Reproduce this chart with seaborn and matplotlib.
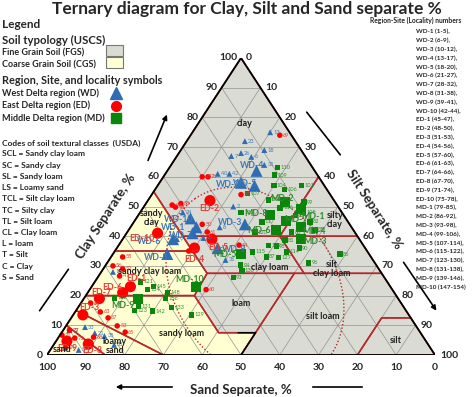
import numpy as np
import pandas as pd
import matplotlib.pyplot as plt
import seaborn as sns
from matplotlib.patches import Polygon, Rectangle, FancyArrowPatch
from matplotlib.lines import Line2D

sns.set_theme(style='white')
plt.rcParams['font.family'] = ['Lato', 'DejaVu Sans']

W, H = 474, 397

# ---- site means (large symbols): sand %, clay % ----
wd_sites = ['WD-1', 'WD-2', 'WD-3', 'WD-4', 'WD-5', 'WD-6', 'WD-7', 'WD-8', 'WD-9', 'WD-10']
wd_sand = [40, 21, 27, 15, 18, 48, 42, 52, 38, 40]
wd_clay = [43, 58, 44, 62, 57, 39, 41, 34, 36, 46]

ed_sites = ['ED-1', 'ED-2', 'ED-3', 'ED-4', 'ED-5', 'ED-6', 'ED-7', 'ED-8', 'ED-9', 'ED-10']
ed_sand = [67, 32, 84, 44, 38, 70, 77, 87.5, 92.5, 51]
ed_clay = [23, 52, 13.5, 36, 39, 21, 19, 3.7, 4.7, 41]

md_sites = ['MD-1', 'MD-2', 'MD-3', 'MD-4', 'MD-5', 'MD-6', 'MD-7', 'MD-8', 'MD-9', 'MD-10']
md_sand = [10, 13, 15, 13, 33, 20, 16, 19, 67, 50]
md_clay = [49, 51.5, 39, 43, 34, 42, 45, 47, 19, 23]

# ---- localities (small symbols): number, sand %, clay % ----
wd_loc_no = [7, 23, 18, 13, 42, 40, 31, 2, 9, 24, 29, 36, 16, 38, 6, 26, 8, 5, 21, 35, 33, 27]
wd_loc_sand = [19, 13, 9.5, 5, 22.5, 25.5, 12, 27, 47, 41, 40, 38, 69, 81, 14, 16, 34, 91, 84, 82, 85.5, 90]
wd_loc_clay = [67, 72, 69, 75, 61, 61, 64, 50, 39, 48, 39.4, 32, 28, 3.4, 66.7, 68, 43, 1.7, 7.4, 6.4, 9.4, 8.4]

ed_loc_no = [75, 76, 58, 46, 50, 61, 54, 57, 60, 55, 52, 56, 47, 64, 63, 67, 53, 65, 68, 71, 72, 73, 74, 69, 78, 45]
ed_loc_sand = [30, 28.5, 40, 42.5, 38, 38, 32, 23, 48, 64, 66, 68, 68, 80, 79, 78, 77, 76, 85, 92.8, 90, 90, 94, 3, 42, 46]
ed_loc_clay = [60, 60, 51, 50.5, 44, 41.4, 37, 54, 22, 33, 29, 30, 26.6, 17.5, 14.5, 12.5, 9.8, 7.7, 6, 6.7, 8.4, 5.7, 2.4, 74, 49.8, 35]

md_loc_no = [110, 109, 104, 106, 101, 99, 108, 86, 96, 90, 119, 98, 114, 115, 127, 87, 94, 130, 93, 112,
             107, 145, 148, 136, 133, 142, 129, 154, 123, 131, 121, 122, 116, 117, 80, 81, 82, 83, 118, 120, 85]
md_loc_sand = [9, 11, 13, 11, 6, 8, 10, 7.5, 17, 17, 24.5, 22.6, 21, 29.6, 24, 27, 35, 35.6, 39, 26,
               21, 61, 58.4, 60, 60, 65.5, 56, 63, 70, 68.4, 63.7, 72.9, 15.2, 22.2, 16.2, 19.3, 9.8, 12.5, 16.9, 25.7, 9.9]
md_loc_clay = [63, 60.6, 57, 55.6, 57, 51.5, 48, 34, 31, 36, 37, 36.7, 34.7, 34.7, 32.7, 33, 30.3, 28.3, 26, 48,
               54.5, 23, 21, 19, 16, 14.8, 13.5, 22, 15, 16.2, 24.6, 19.2, 49.5, 44.8, 41.4, 38.7, 44.8, 47.1, 52.2, 41.4, 42.1]

# locality number ranges per site (right-hand list)
site_ranges = ['1-5', '6-9', '10-12', '13-17', '18-20', '21-27', '28-32', '31-38', '39-41', '42-44',
               '45-47', '48-50', '51-53', '54-56', '57-60', '61-63', '64-66', '67-70', '71-74', '75-78',
               '79-85', '86-92', '93-98', '99-106', '107-114', '115-122', '123-130', '131-138', '139-146', '147-154']

# USDA texture classes, vertices as (sand %, clay %)
usda = {
    'clay': [(0, 100), (45, 55), (45, 40), (20, 40), (0, 60)],
    'sandy clay': [(45, 55), (65, 35), (45, 35)],
    'silty clay': [(0, 60), (20, 40), (0, 40)],
    'sandy clay loam': [(65, 35), (80, 20), (52, 20), (45, 27.5), (45, 35)],
    'clay loam': [(45, 40), (45, 27.5), (20, 27.5), (20, 40)],
    'silty clay loam': [(20, 40), (20, 27.5), (0, 27.5), (0, 40)],
    'loam': [(45, 27.5), (52, 20), (52, 7.5), (42.5, 7.5), (22.5, 27.5)],
    'silt loam': [(22.5, 27.5), (0, 27.5), (0, 12.5), (7.5, 12.5), (20, 0), (50, 0), (42.5, 7.5)],
    'silt': [(0, 12.5), (0, 0), (20, 0), (7.5, 12.5)],
    'sandy loam': [(80, 20), (85, 15), (70, 0), (50, 0), (42.5, 7.5), (52, 7.5), (52, 20)],
    'loamy sand': [(85, 15), (90, 10), (85, 0), (70, 0)],
    'sand': [(90, 10), (100, 0), (85, 0)],
}
coarse = ['sandy clay', 'sandy clay loam', 'sandy loam', 'loamy sand', 'sand']

# class name texts: text, sand, clay
class_text = ['clay', 'sandy\nclay', 'silty\nclay', 'sandy clay loam', 'clay loam', 'silt\nclay loam',
              'loam', 'silt loam', 'sandy loam', 'loamy\nsand', 'sand', 'silt']
class_sand = [10, 50, 3, 59.5, 28, 12, 41.4, 22.5, 61.7, 81, 95, 7.5]
class_clay = [78, 46, 45.5, 28, 29.3, 29, 17.2, 12.8, 7.1, 3, 2, 5]

legend_codes = ['SCL = Sandy clay loam', 'SC = Sandy clay', 'SL = Sandy loam', 'LS = Loamy sand',
                'TCL = Silt clay loam', 'TC = Silty clay', 'TL = Silt loam', 'CL = Clay loam',
                'L = loam', 'T = Silt', 'C = Clay', 'S = Sand']

# colours
GRAY_FILL = '#DADCD4'
YELLOW_FILL = '#FFFFD2'
GRID = '#939393'
BORDER = '#B52A2A'
WD_C, ED_C, MD_C = '#2E6DB4', '#FF0000', '#0A860A'
WD_T, ED_T, MD_T = '#3D78B8', '#E83A3A', '#2E8B2E'

# label offsets for site names, pixels (dx right, dy down)
site_off = {
    'WD-1': (-23, 0), 'WD-2': (-13, 2), 'WD-3': (-15, -2), 'WD-4': (-4, -5), 'WD-5': (-9, -2),
    'WD-6': (-24, 2), 'WD-7': (-11, 2), 'WD-8': (-11, 3), 'WD-9': (16, 1), 'WD-10': (-12, 1),
    'ED-1': (6, -8), 'ED-2': (-1, 8), 'ED-3': (6, -7), 'ED-4': (0, 11), 'ED-5': (6, 8),
    'ED-6': (-10, -5), 'ED-7': (2, -6), 'ED-8': (4, 6), 'ED-9': (0, 7), 'ED-10': (-16, 5),
    'MD-1': (12, 7), 'MD-2': (-3, -4), 'MD-3': (14, 2), 'MD-4': (13, 4), 'MD-5': (-16, 0),
    'MD-6': (-17, 0), 'MD-7': (10, -2), 'MD-8': (-14, -2), 'MD-9': (-15, 7), 'MD-10': (-7, -7),
}


def tern(sand, clay):
    sand = np.asarray(sand, dtype=float)
    clay = np.asarray(clay, dtype=float)
    return 100 - sand - clay / 2, clay


def fp(px, py):
    # figure pixel (from top-left) -> figure fraction
    return px / W, 1 - py / H


fig = plt.figure(figsize=(W / 100, H / 100), dpi=100)
fig.patch.set_facecolor('white')
ax = fig.add_axes([47 / W, 1 - 355 / H, 388 / W, 297 / H])

# texture class fills
for name, verts in usda.items():
    s, c = zip(*verts)
    xy = np.column_stack(tern(s, c))
    ax.add_patch(Polygon(xy, closed=True, fc=YELLOW_FILL if name in coarse else GRAY_FILL,
                         ec='none', zorder=1))

# grid every 10 %
for v in range(10, 100, 10):
    ax.plot(*tern([100 - v, 0], [v, v]), color=GRID, lw=0.5, zorder=2)
    ax.plot(*tern([v, v], [0, 100 - v]), color=GRID, lw=0.5, zorder=2)
    ax.plot(*tern([100 - v, 0], [0, 100 - v]), color=GRID, lw=0.5, zorder=2)

# class boundaries
for name, verts in usda.items():
    s, c = zip(*(verts + [verts[0]]))
    ax.plot(*tern(s, c), color=BORDER, lw=1.1, zorder=3)
ax.plot(*tern([47, 42.5, 50], [7.5, 7.5, 0]), color='black', lw=1.1, zorder=3)

# outline
tx, ty = tern([100, 0, 0, 100], [0, 0, 100, 0])
ax.plot(tx, ty, color='black', lw=1.3, zorder=6)
tri = Polygon(np.column_stack([tx, ty]), closed=True, transform=ax.transData)

# dotted envelope
t = np.linspace(0, 2 * np.pi, 300)
ex = 53.6 - 15.5 * np.cos(t) + 16.9 * np.sin(t)
ey = 23.6 + 29.0 * np.cos(t) + 15.5 * np.sin(t)
env, = ax.plot(ex, ey, color=BORDER, lw=1.0, ls=(0, (1, 1.5)), zorder=3)
env.set_clip_path(tri)

# localities
loc = pd.concat([
    pd.DataFrame({'no': wd_loc_no, 'sand': wd_loc_sand, 'clay': wd_loc_clay, 'region': 'WD'}),
    pd.DataFrame({'no': ed_loc_no, 'sand': ed_loc_sand, 'clay': ed_loc_clay, 'region': 'ED'}),
    pd.DataFrame({'no': md_loc_no, 'sand': md_loc_sand, 'clay': md_loc_clay, 'region': 'MD'}),
], ignore_index=True)
loc['x'], loc['y'] = tern(loc['sand'], loc['clay'])

sites = pd.concat([
    pd.DataFrame({'site': wd_sites, 'sand': wd_sand, 'clay': wd_clay, 'region': 'WD'}),
    pd.DataFrame({'site': ed_sites, 'sand': ed_sand, 'clay': ed_clay, 'region': 'ED'}),
    pd.DataFrame({'site': md_sites, 'sand': md_sand, 'clay': md_clay, 'region': 'MD'}),
], ignore_index=True)
sites['x'], sites['y'] = tern(sites['sand'], sites['clay'])

pal = {'WD': WD_C, 'ED': ED_C, 'MD': MD_C}
mk = {'WD': '^', 'ED': 'o', 'MD': 's'}
txt_col = {'WD': WD_T, 'ED': ED_T, 'MD': MD_T}

sns.scatterplot(data=loc, x='x', y='y', hue='region', style='region', size='region',
                palette=pal, markers=mk, sizes={'WD': 18, 'ED': 16, 'MD': 14},
                linewidth=0, legend=False, ax=ax, zorder=4)
sns.scatterplot(data=sites, x='x', y='y', hue='region', style='region', size='region',
                palette=pal, markers=mk, sizes={'WD': 75, 'ED': 64, 'MD': 52},
                linewidth=0, legend=False, ax=ax, zorder=5)

for _, r in loc.iterrows():
    ax.annotate(str(r['no']), (r['x'], r['y']), xytext=(3, 0), textcoords='offset pixels',
                fontsize=4.1, color=txt_col[r['region']], ha='left', va='center', zorder=6)

for _, r in sites.iterrows():
    dx, dy = site_off[r['site']]
    ax.annotate(r['site'], (r['x'], r['y']), xytext=(dx, -dy), textcoords='offset pixels',
                fontsize=6.3, fontweight='bold', color=txt_col[r['region']],
                ha='center', va='center', zorder=7)

for lab, s, c in zip(class_text, class_sand, class_clay):
    x, y = tern(s, c)
    ax.text(x, y, lab, fontsize=6.5, fontweight='bold', color='#222222', ha='center', va='center',
            linespacing=1.0, zorder=7)

# tick labels
for v in range(0, 101, 10):
    x, y = tern(100 - v, v)
    ax.annotate(str(v), (x, y), xytext=(-4, 0), textcoords='offset pixels', ha='right', va='center',
                fontsize=7.5, fontweight='bold', annotation_clip=False)
    x, y = tern(0, 100 - v)
    ax.annotate(str(v), (x, y), xytext=(5, 0), textcoords='offset pixels', ha='left', va='center',
                fontsize=7.5, fontweight='bold', annotation_clip=False)
    x, y = tern(v, 0)
    ax.annotate(str(v), (x, y), xytext=(0, -13), textcoords='offset pixels', ha='center', va='center',
                fontsize=7.5, fontweight='bold', annotation_clip=False)

ax.set_xlim(0, 100)
ax.set_ylim(0, 100)
ax.axis('off')

# titles
fig.text(*fp(247, 9), 'Ternary diagram for Clay, Silt and Sand separate %', fontsize=12.5,
         fontweight='bold', ha='center', va='center')
fig.text(*fp(106, 216), 'Clay Separate, %', fontsize=9.5, fontweight='bold', rotation=57,
         ha='center', va='center')
fig.text(*fp(374, 209), 'Silt Separate, %', fontsize=9.5, fontweight='bold', rotation=-57,
         ha='center', va='center')
fig.text(*fp(241, 390), 'Sand Separate, %', fontsize=9.5, fontweight='bold', ha='center', va='center')


def arrow(p0, p1, head=True):
    fig.add_artist(FancyArrowPatch(fp(*p0), fp(*p1), transform=fig.transFigure,
                                   arrowstyle='-|>' if head else '-', mutation_scale=7,
                                   color='black', lw=1.2))


arrow((38, 313), (70, 267), head=False)
arrow((147, 163), (168, 112))
arrow((305, 110), (342, 157), head=False)
arrow((402, 260), (438, 313))
arrow((175, 387), (113, 387))
arrow((310, 387), (365, 387), head=False)

# legend (left)
fig.text(*fp(2, 25), 'Legend', fontsize=8.5, fontweight='bold', va='center')
fig.text(*fp(2, 40), 'Soil typology (USCS)', fontsize=8.2, fontweight='bold', va='center')
fig.text(*fp(2, 53), 'Fine Grain Soil (FGS)', fontsize=6.5, fontweight='bold', va='center')
fig.text(*fp(2, 65), 'Coarse Grain Soil (CGS)', fontsize=6.5, fontweight='bold', va='center')
fig.add_artist(Rectangle(fp(106, 56), 17 / W, 11 / H, transform=fig.transFigure,
                         fc=GRAY_FILL, ec='#777777', lw=0.8))
fig.add_artist(Rectangle(fp(106, 68), 17 / W, 11 / H, transform=fig.transFigure,
                         fc=YELLOW_FILL, ec='#777777', lw=0.8))
fig.text(*fp(2, 80), 'Region, Site, and locality symbols', fontsize=7.8, fontweight='bold', va='center')
reg_names = ['West Delta region (WD)', 'East Delta region (ED)', 'Middle Delta region (MD)']
for i, (name, reg) in enumerate(zip(reg_names, ['WD', 'ED', 'MD'])):
    yy = 93 + i * 12.5
    fig.text(*fp(2, yy), name, fontsize=6.5, fontweight='bold', va='center')
    fig.add_artist(Line2D([fp(116, yy)[0]], [fp(116, yy)[1]], transform=fig.transFigure,
                          marker=mk[reg], ms=8 if reg == 'WD' else 7, color=pal[reg], ls='none'))

fig.text(*fp(2, 143), 'Codes of soil textural classes  (USDA)', fontsize=6, fontweight='bold', va='center')
for i, code in enumerate(legend_codes):
    fig.text(*fp(2, 154 + i * 11.2), code, fontsize=6, fontweight='bold', va='center')

# site list (right)
fig.text(*fp(370, 20), 'Region-Site (Locality) numbers', fontsize=4.9, fontweight='bold', va='center')
all_sites = wd_sites + ed_sites + md_sites
for i, (s, rg) in enumerate(zip(all_sites, site_ranges)):
    end = ',' if i < len(all_sites) - 1 else ''
    fig.text(*fp(416, 31.7 + i * 8.8), f'{s} ({rg}){end}', fontsize=4.6, fontweight='bold', va='center')

fig.savefig('out.png', dpi=100)
